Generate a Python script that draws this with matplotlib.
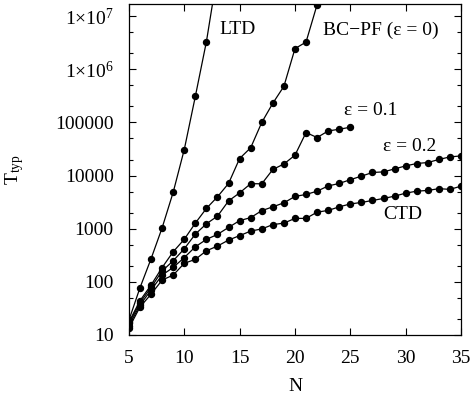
import numpy as np
import matplotlib
matplotlib.use('Agg')
import matplotlib.pyplot as plt
from matplotlib.ticker import FixedLocator, FuncFormatter, NullFormatter

plt.rcParams['font.family'] = ['Liberation Serif', 'DejaVu Serif']
plt.rcParams['mathtext.fontset'] = 'custom'
plt.rcParams['mathtext.rm'] = 'Liberation Serif'
plt.rcParams['mathtext.it'] = 'Liberation Serif:italic'

# typical time vs system size
n_ltd = [5, 6, 7, 8, 9, 10, 11, 12, 13]
t_ltd = [19, 77.5, 272, 1040, 4870, 30960, 3.1e5, 3.32e6, 6.5e7]

n_bc = list(range(5, 23))
t_bc = [17.5, 44.2, 87, 186, 368, 632, 1274, 2410, 3980, 7110, 20950,
        33430, 1.0e5, 2.3e5, 4.79e5, 2.45e6, 3.26e6, 1.65e7]

n_e01 = list(range(5, 26))
t_e01 = [16.5, 40.5, 78.8, 160, 249, 419, 791, 1236, 1726, 3330, 4730,
         7040, 7000, 13030, 16520, 24170, 64600, 52000, 69200, 74500, 81300]

n_e02 = list(range(5, 36))
t_e02 = [15, 36.6, 70, 134, 187, 286, 457, 629, 781, 1057, 1420, 1617,
         2188, 2580, 3070, 4050, 4410, 5090, 6380, 7110, 8370, 9750, 11430,
         11740, 13360, 15210, 16870, 17620, 20080, 22480, 23440]

n_ctd = list(range(5, 36))
t_ctd = [13.5, 33.6, 58.5, 108, 134, 223, 265, 384, 471, 611, 741, 902,
         991, 1194, 1274, 1563, 1563, 2050, 2208, 2580, 2925, 3120, 3400,
         3710, 4100, 4670, 5090, 5250, 5670, 5500, 6320]

yticks = [10, 100, 1000, 10000, 100000, 1e6, 1e7]
yminor = [m * 10**e for e in range(1, 7) for m in (2, 5)]

fig = plt.figure(figsize=(4.74, 3.95), dpi=100)
ax = fig.add_axes([0.272, 0.152, 0.7006, 0.838])

for n, t in [(n_ltd, t_ltd), (n_bc, t_bc), (n_e01, t_e01), (n_e02, t_e02), (n_ctd, t_ctd)]:
    ax.plot(n, t, '-o', color='black', lw=0.9, ms=4.3)

ax.set_yscale('log')
ax.set_xlim(5, 35)
ax.set_ylim(10, 1.7e7)

ax.xaxis.set_major_locator(FixedLocator([5, 10, 15, 20, 25, 30, 35]))
ax.yaxis.set_major_locator(FixedLocator(yticks))
ax.yaxis.set_minor_locator(FixedLocator(yminor))
ax.yaxis.set_minor_formatter(NullFormatter())

def yfmt(v, pos):
    e = int(round(np.log10(v)))
    if e >= 6:
        return r'$1{\times}10^{%d}$' % e
    return '%d' % int(round(v))

ax.yaxis.set_major_formatter(FuncFormatter(yfmt))

ax.tick_params(which='both', direction='in', top=True, right=True, labelsize=14, width=0.8)
ax.tick_params(which='major', length=5)
ax.tick_params(which='minor', length=3)
ax.tick_params(axis='x', which='major', pad=11)
ax.tick_params(axis='y', which='major', pad=11)
for s in ax.spines.values():
    s.set_linewidth(0.9)

ax.set_xlabel('N', fontsize=14)
ax.xaxis.set_label_coords(0.5, -0.13)
ax.set_ylabel(r'$\mathrm{T_{typ}}$', fontsize=14)
ax.yaxis.set_label_coords(-0.31, 0.5)

ax.text(14.85, 5.6e6, 'LTD', fontsize=14, ha='center', va='center')
ax.text(27.8, 5.4e6, 'BC\u2212PF (\u03b5 = 0)', fontsize=14, ha='center', va='center')
ax.text(26.8, 1.7e5, '\u03b5 = 0.1', fontsize=14, ha='center', va='center')
ax.text(30.4, 3.5e4, '\u03b5 = 0.2', fontsize=14, ha='center', va='center')
ax.text(29.75, 1.87e3, 'CTD', fontsize=14, ha='center', va='center')

plt.savefig('out.png', dpi=100)
